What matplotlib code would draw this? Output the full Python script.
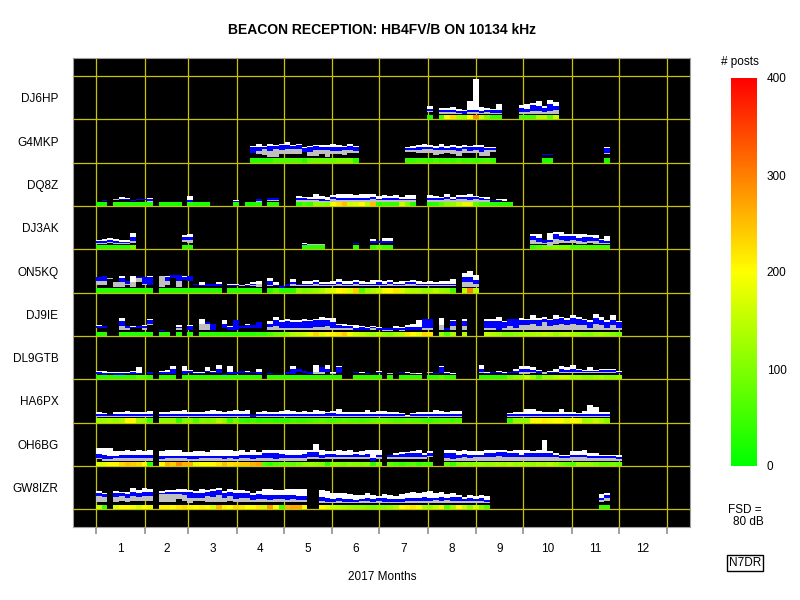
import numpy as np
import matplotlib
matplotlib.use('Agg')
import matplotlib.pyplot as plt
from matplotlib.colors import LinearSegmentedColormap, Normalize
from matplotlib.cm import ScalarMappable

plt.rcParams['font.family'] = ['Liberation Sans', 'DejaVu Sans']

STATIONS = ['DJ6HP', 'G4MKP', 'DQ8Z', 'DJ3AK', 'ON5KQ',
            'DJ9IE', 'DL9GTB', 'HA6PX', 'OH6BG', 'GW8IZR']
MONTH_STARTS = [0, 31, 59, 90, 120, 151, 181, 212, 243, 273, 304, 334, 365]
MONTH_LABELS = [str(m) for m in range(1, 13)]
CBAR_TICKS = [0, 100, 200, 300, 400]
BIN_DAYS = 3.65      # one column = 1/100 of the year
FSD_DB = 80          # full scale of one station row
STRIP_DB = 8         # height of the posts strip

# (bin, posts, gray_lo, blue_lo, blue_hi, white_hi)  -- levels in dB
DJ6HP = [
    (58, 20, 14, 15, 20, 25),
    (60, 60, 10, 14, 18, 22), (61, 190, 10, 14, 18, 22), (62, 230, 10, 14, 18, 23),
    (63, 120, 10, 12, 16, 20), (64, 110, 10, 11, 15, 18), (65, 200, 10, 14, 18, 35),
    (66, 290, 10, 14, 18, 75), (67, 150, 10, 12, 16, 23), (68, 90, 10, 14, 18, 22),
    (69, 40, 10, 12, 18, 20), (70, 40, 10, 12, 18, 29),
    (74, 50, 10, 14, 22, 27), (75, 50, 10, 14, 20, 29), (76, 50, 10, 16, 27, 31),
    (77, 130, 10, 16, 25, 35), (78, 130, 10, 14, 22, 25), (79, 70, 10, 16, 29, 36),
    (80, 150, 10, 18, 25, 33),
]
G4MKP = [
    (27, 30, 18, 18, 29, 31), (28, 30, 16, 22, 30, 35), (29, 30, 15, 25, 29, 31),
    (30, 30, 11, 22, 31, 35), (31, 60, 11, 25, 31, 33), (32, 60, 16, 24, 33, 35),
    (33, 60, 17, 25, 33, 39), (34, 60, 17, 26, 31, 33), (35, 60, 17, 25, 33, 34),
    (36, 30, 20, 20, 28, 30), (37, 80, 13, 20, 29, 31), (38, 80, 13, 24, 31, 33),
    (39, 80, 17, 24, 30, 33), (40, 80, 11, 24, 30, 33), (41, 80, 17, 22, 30, 35),
    (42, 90, 16, 22, 30, 33), (43, 90, 15, 24, 30, 31), (44, 90, 19, 23, 31, 35),
    (45, 30, 19, 22, 30, 31),
    (54, 40, 20, 24, 28, 30), (55, 40, 20, 23, 28, 31), (56, 50, 18, 24, 30, 33),
    (57, 50, 19, 25, 30, 35), (58, 40, 18, 25, 30, 33), (59, 60, 15, 24, 28, 31),
    (60, 40, 17, 24, 30, 35), (61, 50, 18, 24, 27, 31), (62, 40, 17, 24, 30, 33),
    (63, 60, 13, 22, 28, 31), (64, 40, 19, 25, 30, 33), (65, 50, 19, 22, 30, 31),
    (66, 40, 18, 24, 30, 33), (67, 50, 13, 20, 30, 33), (68, 60, 13, 24, 28, 30),
    (69, 40, 20, 24, 28, 30),
    (78, 20, 15, 15, 17, 17), (79, 20, 15, 15, 17, 17),
    (89, 20, 16, 19, 28, 30),
]
DQ8Z = [
    (0, 20, 0, 0, 0, 0), (1, 20, 10, 10, 11, 11),
    (3, 30, 12, 14, 14, 14), (4, 30, 11, 11, 14, 17), (5, 30, 11, 11, 14, 15),
    (6, 30, 10, 10, 12, 12), (7, 30, 12, 12, 14, 14), (8, 30, 12, 12, 14, 14),
    (9, 30, 8, 10, 14, 15),
    (11, 20, 0, 0, 0, 0), (12, 20, 0, 0, 0, 0), (13, 20, 0, 0, 0, 0), (14, 20, 0, 0, 0, 0),
    (16, 30, 7, 7, 12, 19), (17, 20, 0, 0, 0, 0), (18, 20, 0, 0, 0, 0), (19, 20, 0, 0, 0, 0),
    (24, 30, 8, 8, 10, 12),
    (26, 20, 0, 0, 0, 0), (27, 20, 0, 0, 0, 0), (28, 30, 7, 10, 14, 14),
    (30, 30, 9, 12, 15, 15), (31, 30, 9, 12, 15, 15),
    (35, 30, 8, 12, 15, 19), (36, 60, 8, 11, 15, 17), (37, 40, 8, 11, 14, 17),
    (38, 110, 8, 11, 14, 23), (39, 110, 8, 10, 14, 19), (40, 100, 8, 10, 12, 17),
    (41, 200, 8, 14, 17, 21), (42, 220, 8, 12, 15, 23), (43, 250, 8, 12, 15, 23),
    (44, 160, 8, 12, 15, 23), (45, 170, 8, 12, 15, 21), (46, 200, 8, 12, 15, 23),
    (47, 140, 8, 12, 15, 23), (48, 250, 8, 14, 17, 23), (49, 30, 8, 11, 14, 19),
    (50, 40, 8, 12, 15, 21), (51, 40, 8, 12, 15, 19), (52, 40, 8, 12, 15, 21),
    (53, 160, 8, 12, 14, 17), (54, 100, 8, 12, 14, 21), (55, 30, 8, 11, 14, 21),
    (58, 30, 8, 12, 15, 21), (59, 30, 8, 12, 15, 19), (60, 70, 8, 12, 15, 17),
    (61, 100, 8, 14, 17, 23), (62, 110, 8, 11, 14, 17), (63, 150, 8, 14, 17, 21),
    (64, 180, 8, 14, 17, 21), (65, 180, 8, 12, 17, 23), (66, 70, 8, 14, 17, 19),
    (67, 40, 8, 12, 15, 17), (68, 40, 8, 11, 14, 17), (69, 30, 10, 10, 12, 12),
    (70, 30, 10, 10, 12, 13), (71, 30, 10, 10, 10, 13), (72, 30, 0, 0, 0, 0),
]
DJ3AK = [
    (0, 30, 10, 12, 15, 17), (1, 30, 10, 11, 15, 19), (2, 30, 11, 14, 17, 21),
    (3, 30, 10, 12, 15, 19), (4, 30, 10, 11, 14, 17), (5, 30, 10, 11, 14, 17),
    (6, 80, 12, 15, 23, 30),
    (15, 30, 14, 18, 23, 27), (16, 30, 12, 18, 23, 29),
    (36, 30, 9, 9, 10, 12), (37, 30, 9, 10, 10, 10), (38, 30, 9, 10, 10, 10),
    (39, 30, 9, 10, 10, 10),
    (45, 30, 10, 10, 12, 12),
    (48, 40, 11, 12, 15, 19), (49, 70, 11, 12, 15, 15), (50, 40, 12, 12, 15, 21),
    (51, 40, 12, 12, 15, 21),
    (76, 40, 10, 17, 25, 29), (77, 60, 10, 14, 21, 29), (78, 80, 10, 12, 17, 17),
    (79, 90, 7, 14, 17, 30), (80, 100, 10, 20, 29, 32), (81, 90, 12, 17, 25, 32),
    (82, 90, 11, 16, 25, 29), (83, 50, 11, 17, 25, 29), (84, 50, 10, 15, 21, 29),
    (85, 50, 10, 14, 23, 29), (86, 50, 11, 15, 23, 27), (87, 50, 10, 15, 21, 27),
    (88, 50, 10, 12, 17, 19), (89, 50, 10, 12, 15, 25),
]
ON5KQ = [
    (0, 30, 15, 21, 29, 29), (1, 30, 15, 21, 31, 31), (2, 30, 25, 27, 27, 27),
    (3, 30, 10, 20, 20, 20), (4, 30, 10, 19, 27, 31), (5, 30, 15, 17, 21, 21),
    (6, 30, 10, 19, 19, 31), (7, 30, 19, 27, 29, 29), (8, 30, 15, 17, 29, 29),
    (9, 30, 15, 15, 29, 31),
    (11, 30, 10, 30, 30, 31), (12, 30, 15, 22, 29, 31), (13, 30, 27, 27, 33, 33),
    (14, 30, 10, 21, 33, 33), (15, 30, 24, 24, 29, 31), (16, 30, 22, 22, 31, 31),
    (17, 30, 15, 15, 16, 16), (18, 30, 12, 12, 15, 19), (19, 30, 13, 13, 16, 16),
    (20, 30, 13, 13, 16, 16), (21, 30, 12, 12, 16, 20),
    (23, 30, 13, 13, 15, 17), (24, 30, 13, 13, 15, 16), (25, 30, 12, 14, 14, 14),
    (26, 30, 12, 13, 15, 16), (27, 30, 12, 15, 17, 20), (28, 30, 10, 17, 17, 21),
    (30, 30, 12, 15, 21, 27), (31, 70, 12, 12, 15, 20), (32, 30, 9, 9, 12, 12),
    (33, 30, 12, 13, 16, 17), (34, 30, 13, 16, 20, 25), (35, 110, 12, 14, 17, 17),
    (36, 90, 12, 14, 17, 21), (37, 100, 12, 14, 17, 21), (38, 110, 12, 16, 20, 24),
    (39, 130, 12, 14, 17, 20), (40, 160, 12, 14, 17, 20), (41, 170, 12, 14, 17, 21),
    (42, 200, 12, 16, 20, 25), (43, 210, 12, 14, 17, 21), (44, 170, 12, 14, 17, 21),
    (45, 240, 12, 16, 20, 24), (46, 60, 12, 14, 17, 21), (47, 120, 12, 14, 17, 20),
    (48, 130, 12, 14, 17, 24), (49, 150, 12, 14, 20, 24), (50, 190, 12, 15, 17, 21),
    (51, 200, 12, 16, 20, 24), (52, 220, 12, 14, 17, 20), (53, 170, 12, 14, 17, 21),
    (54, 140, 12, 16, 20, 21), (55, 130, 12, 16, 20, 24), (56, 130, 12, 14, 17, 21),
    (57, 110, 12, 14, 17, 20), (58, 120, 12, 14, 17, 21), (59, 140, 12, 14, 17, 20),
    (60, 120, 12, 14, 17, 21), (61, 110, 12, 14, 17, 21), (62, 50, 12, 14, 17, 25),
    (64, 150, 11, 20, 29, 37), (65, 300, 11, 20, 29, 40), (66, 140, 11, 17, 24, 33),
]
DJ9IE = [
    (0, 30, 14, 15, 19, 21), (1, 30, 15, 15, 19, 19),
    (4, 30, 12, 19, 27, 34), (5, 30, 12, 14, 19, 19), (6, 30, 14, 14, 17, 19),
    (7, 30, 14, 14, 19, 19), (8, 30, 11, 14, 19, 21), (9, 30, 21, 23, 29, 32),
    (11, 30, 10, 10, 12, 12), (12, 30, 0, 0, 0, 0),
    (14, 30, 12, 14, 17, 21), (16, 30, 11, 11, 19, 21),
    (18, 30, 12, 23, 23, 32), (19, 30, 12, 22, 25, 25), (20, 30, 12, 12, 23, 23),
    (21, 30, 0, 0, 0, 0), (22, 30, 14, 14, 23, 30), (23, 30, 11, 11, 17, 18),
    (24, 30, 12, 12, 29, 30), (25, 30, 14, 14, 19, 19), (26, 30, 14, 14, 21, 23),
    (27, 30, 14, 14, 21, 21), (28, 40, 14, 14, 25, 25), (29, 40, 0, 0, 0, 0),
    (30, 60, 11, 17, 23, 27), (31, 80, 11, 19, 30, 36), (32, 90, 11, 14, 25, 29),
    (33, 110, 11, 15, 27, 32), (34, 140, 11, 14, 25, 29), (35, 150, 11, 15, 25, 30),
    (36, 160, 11, 15, 27, 32), (37, 180, 11, 15, 27, 30), (38, 230, 11, 17, 29, 32),
    (39, 180, 11, 17, 29, 36), (40, 200, 11, 19, 29, 34), (41, 210, 11, 14, 25, 34),
    (42, 220, 11, 14, 21, 23), (43, 240, 11, 14, 19, 23), (44, 190, 11, 14, 19, 21),
    (45, 160, 11, 12, 15, 21), (46, 150, 11, 12, 17, 19), (47, 130, 11, 12, 15, 17),
    (48, 120, 11, 14, 17, 19), (49, 140, 11, 12, 15, 17), (50, 110, 10, 11, 14, 15),
    (51, 100, 10, 11, 14, 15), (52, 130, 11, 12, 15, 19), (53, 140, 10, 11, 14, 17),
    (54, 220, 11, 12, 17, 21), (55, 200, 11, 12, 17, 23), (56, 180, 11, 12, 17, 30),
    (57, 230, 11, 14, 32, 32), (58, 220, 11, 15, 32, 32),
    (60, 120, 11, 20, 20, 34), (61, 60, 12, 12, 14, 14), (62, 130, 11, 18, 27, 29),
    (64, 140, 11, 18, 27, 32),
    (68, 150, 11, 15, 27, 32), (69, 140, 11, 14, 27, 32), (70, 130, 11, 12, 27, 36),
    (71, 100, 11, 15, 25, 27), (72, 100, 11, 18, 32, 32), (73, 110, 11, 15, 32, 32),
    (74, 120, 11, 20, 30, 34), (75, 130, 11, 20, 29, 32), (76, 130, 11, 23, 30, 38),
    (77, 140, 11, 19, 30, 34), (78, 150, 11, 25, 32, 36), (79, 140, 11, 18, 29, 32),
    (80, 120, 11, 21, 32, 38), (81, 140, 11, 23, 34, 36), (82, 150, 11, 21, 30, 34),
    (83, 130, 11, 23, 34, 38), (84, 120, 11, 21, 32, 36), (85, 110, 11, 21, 30, 32),
    (86, 100, 11, 15, 25, 30), (87, 120, 11, 23, 34, 40), (88, 130, 11, 21, 30, 36),
    (89, 120, 11, 15, 25, 29), (90, 100, 11, 21, 30, 38), (91, 90, 11, 15, 25, 27),
]
DL9GTB = [
    (0, 30, 9, 9, 13, 16), (1, 30, 8, 8, 12, 16), (2, 30, 9, 9, 12, 14),
    (3, 30, 8, 8, 11, 13), (4, 30, 8, 8, 12, 14), (5, 30, 9, 9, 12, 14),
    (6, 30, 9, 9, 13, 16), (7, 60, 9, 9, 12, 22), (8, 60, 0, 0, 0, 0),
    (9, 30, 9, 9, 14, 14),
    (11, 30, 9, 9, 13, 16), (12, 30, 9, 9, 13, 18), (13, 30, 9, 9, 19, 25),
    (15, 30, 9, 9, 16, 24), (16, 30, 12, 12, 16, 18), (17, 30, 9, 9, 12, 13),
    (18, 30, 9, 9, 12, 13), (19, 30, 13, 13, 16, 22), (20, 30, 11, 11, 14, 16),
    (21, 30, 12, 12, 20, 27), (22, 30, 8, 8, 9, 10), (23, 30, 9, 9, 13, 25),
    (24, 30, 9, 9, 13, 14), (25, 30, 12, 12, 16, 16), (26, 30, 12, 12, 14, 16),
    (27, 30, 11, 11, 13, 14), (28, 30, 9, 9, 14, 19),
    (30, 30, 9, 9, 11, 11), (31, 30, 0, 0, 0, 0), (32, 30, 0, 0, 0, 0),
    (33, 30, 9, 9, 13, 14), (34, 30, 9, 9, 19, 25), (35, 30, 13, 13, 19, 19),
    (36, 30, 12, 12, 16, 16), (37, 30, 9, 9, 13, 13), (38, 30, 9, 13, 13, 27),
    (39, 30, 10, 13, 22, 22), (40, 30, 13, 13, 20, 27), (41, 30, 9, 12, 12, 14),
    (42, 30, 12, 12, 22, 25),
    (45, 30, 12, 12, 14, 14), (46, 30, 11, 12, 12, 13), (47, 30, 9, 9, 12, 12),
    (48, 30, 0, 0, 0, 0), (49, 30, 12, 12, 14, 16),
    (51, 30, 10, 11, 11, 12),
    (53, 30, 12, 12, 14, 14), (54, 30, 11, 11, 12, 13), (55, 30, 9, 12, 12, 12),
    (56, 30, 10, 10, 10, 11),
    (58, 30, 11, 13, 13, 14), (59, 30, 9, 9, 12, 12), (60, 60, 12, 12, 22, 25),
    (61, 30, 9, 9, 12, 13), (62, 30, 10, 10, 10, 11),
    (67, 30, 12, 14, 20, 27), (68, 30, 9, 9, 12, 14), (69, 30, 11, 11, 13, 14),
    (70, 30, 11, 11, 14, 16), (71, 30, 9, 9, 12, 14), (72, 80, 11, 11, 13, 14),
    (73, 100, 11, 11, 16, 20), (74, 110, 9, 13, 20, 24), (75, 150, 9, 13, 20, 24),
    (76, 110, 12, 13, 18, 22), (77, 50, 12, 12, 16, 18), (78, 110, 9, 13, 13, 13),
    (79, 110, 12, 12, 14, 16), (80, 130, 11, 11, 14, 20), (81, 150, 12, 14, 20, 24),
    (82, 150, 12, 13, 18, 22), (83, 120, 12, 14, 20, 27), (84, 120, 12, 13, 18, 20),
    (85, 100, 12, 13, 16, 18), (86, 100, 12, 13, 16, 22), (87, 110, 12, 13, 16, 18),
    (88, 120, 12, 13, 18, 20), (89, 100, 12, 13, 18, 20), (90, 100, 12, 13, 18, 20),
    (91, 110, 11, 11, 14, 16),
]
HA6PX = [
    (0, 120, 11, 13, 16, 19), (1, 120, 11, 13, 16, 17), (2, 130, 11, 13, 15, 15),
    (3, 120, 11, 13, 16, 19), (4, 130, 11, 13, 16, 19), (5, 200, 11, 13, 16, 21),
    (6, 200, 11, 13, 16, 19), (7, 120, 11, 13, 16, 19), (8, 110, 11, 13, 16, 19),
    (9, 50, 11, 13, 16, 21),
    (11, 110, 11, 13, 16, 19), (12, 110, 11, 13, 16, 19), (13, 110, 11, 13, 16, 21),
    (14, 40, 11, 13, 16, 21), (15, 100, 11, 13, 16, 23), (16, 100, 11, 13, 16, 19),
    (17, 60, 11, 13, 16, 19), (18, 100, 11, 13, 16, 19), (19, 90, 11, 13, 16, 21),
    (20, 100, 11, 13, 16, 23), (21, 140, 11, 13, 16, 21), (22, 110, 11, 13, 16, 19),
    (23, 40, 11, 13, 16, 21), (24, 90, 11, 13, 16, 23), (25, 40, 11, 13, 16, 21),
    (26, 30, 11, 13, 16, 23), (27, 50, 10, 11, 14, 14), (28, 30, 11, 13, 16, 19),
    (29, 40, 11, 13, 16, 21), (30, 40, 11, 13, 16, 19), (31, 30, 11, 13, 16, 19),
    (32, 40, 11, 13, 16, 21), (33, 30, 11, 13, 16, 23), (34, 50, 11, 13, 16, 21),
    (35, 40, 11, 13, 16, 19), (36, 40, 11, 13, 16, 21), (37, 50, 11, 13, 16, 19),
    (38, 60, 11, 13, 16, 23), (39, 70, 11, 13, 16, 21), (40, 60, 11, 13, 17, 19),
    (41, 50, 11, 13, 17, 21), (42, 60, 11, 13, 16, 25), (43, 70, 11, 13, 16, 19),
    (44, 60, 11, 13, 16, 19), (45, 60, 11, 13, 16, 19), (46, 50, 11, 13, 16, 19),
    (47, 60, 11, 13, 16, 23), (48, 70, 11, 13, 16, 19), (49, 80, 11, 13, 16, 21),
    (50, 80, 11, 13, 16, 21), (51, 70, 11, 13, 16, 19), (52, 60, 11, 13, 16, 19),
    (53, 60, 11, 13, 16, 17), (54, 70, 10, 12, 12, 14), (55, 60, 11, 13, 16, 17),
    (56, 60, 11, 13, 16, 19), (57, 50, 11, 13, 16, 19), (58, 40, 11, 13, 16, 19),
    (59, 50, 11, 13, 16, 23), (60, 60, 11, 13, 16, 21), (61, 60, 11, 13, 16, 19),
    (62, 50, 11, 13, 16, 21), (63, 60, 11, 13, 16, 21),
    (72, 40, 11, 13, 16, 17), (73, 110, 11, 13, 16, 19), (74, 110, 11, 13, 16, 19),
    (75, 110, 11, 13, 16, 25), (76, 200, 11, 13, 16, 25), (77, 200, 11, 13, 16, 21),
    (78, 210, 11, 13, 16, 19), (79, 190, 11, 13, 16, 19), (80, 200, 11, 13, 16, 19),
    (81, 200, 11, 13, 16, 25), (82, 170, 11, 13, 16, 19), (83, 200, 11, 13, 16, 19),
    (84, 190, 11, 13, 16, 17), (85, 120, 11, 13, 16, 21), (86, 130, 11, 13, 16, 32),
    (87, 150, 11, 13, 16, 29), (88, 130, 11, 13, 16, 19), (89, 100, 11, 13, 16, 19),
]
OH6BG = [
    (0, 170, 12, 14, 22, 33), (1, 180, 10, 13, 21, 33), (2, 200, 10, 13, 19, 33),
    (3, 200, 10, 14, 19, 27), (4, 230, 10, 14, 20, 27), (5, 250, 10, 14, 20, 30),
    (6, 240, 10, 14, 20, 27), (7, 230, 10, 14, 20, 29), (8, 200, 10, 14, 20, 27),
    (9, 40, 10, 14, 21, 29),
    (11, 200, 10, 13, 19, 27), (12, 260, 10, 14, 19, 29), (13, 240, 10, 14, 19, 29),
    (14, 290, 10, 14, 19, 30), (15, 260, 10, 14, 19, 25), (16, 260, 10, 13, 19, 25),
    (17, 180, 10, 13, 19, 27), (18, 200, 10, 14, 19, 27), (19, 200, 10, 14, 19, 25),
    (20, 200, 10, 14, 19, 29), (21, 220, 10, 14, 19, 29), (22, 250, 10, 13, 19, 30),
    (23, 220, 10, 14, 19, 30), (24, 230, 10, 13, 19, 27), (25, 240, 10, 14, 20, 29),
    (26, 240, 10, 14, 20, 25), (27, 260, 10, 13, 20, 30), (28, 270, 10, 14, 20, 25),
    (29, 60, 10, 14, 24, 30), (30, 40, 10, 14, 24, 30), (31, 60, 10, 13, 24, 29),
    (32, 80, 10, 14, 22, 29), (33, 80, 10, 14, 20, 29), (34, 70, 10, 14, 20, 29),
    (35, 90, 10, 14, 20, 29), (36, 110, 10, 14, 22, 29), (37, 120, 13, 16, 25, 29),
    (38, 110, 13, 16, 25, 40), (39, 100, 13, 14, 20, 29), (40, 30, 13, 16, 22, 27),
    (41, 110, 13, 17, 22, 27), (42, 100, 13, 17, 21, 29), (43, 90, 13, 17, 21, 27),
    (44, 110, 13, 17, 21, 30), (45, 100, 13, 17, 22, 25), (46, 100, 13, 17, 20, 27),
    (47, 110, 13, 17, 22, 29), (48, 30, 9, 9, 15, 29), (49, 100, 13, 16, 21, 29),
    (51, 70, 13, 17, 21, 21), (52, 60, 13, 17, 21, 24), (53, 40, 12, 17, 22, 25),
    (54, 60, 12, 17, 24, 25), (55, 70, 12, 17, 24, 27), (56, 40, 12, 17, 24, 29),
    (57, 60, 12, 17, 21, 24), (58, 50, 16, 19, 24, 27),
    (61, 80, 10, 14, 24, 30), (62, 40, 10, 13, 24, 30), (63, 100, 10, 14, 21, 27),
    (64, 110, 10, 16, 22, 30), (65, 100, 10, 14, 21, 27), (66, 110, 10, 16, 21, 27),
    (67, 120, 10, 16, 21, 27), (68, 110, 10, 17, 24, 29), (69, 120, 10, 17, 24, 30),
    (70, 130, 10, 19, 25, 29), (71, 120, 10, 17, 25, 29), (72, 140, 10, 17, 24, 27),
    (73, 120, 10, 17, 24, 30), (74, 130, 10, 16, 21, 29), (75, 120, 10, 17, 24, 30),
    (76, 110, 10, 17, 24, 27), (77, 130, 10, 17, 24, 30), (78, 120, 10, 17, 24, 48),
    (79, 140, 10, 17, 24, 27), (80, 120, 10, 16, 21, 24), (81, 100, 10, 14, 19, 21),
    (82, 80, 10, 14, 19, 21), (83, 70, 10, 16, 21, 27), (84, 120, 10, 16, 21, 27),
    (85, 110, 10, 16, 21, 29), (86, 110, 10, 14, 19, 24), (87, 100, 10, 14, 19, 24),
    (88, 80, 10, 14, 19, 21), (89, 80, 10, 14, 19, 21), (90, 90, 10, 14, 19, 21),
    (91, 80, 10, 13, 17, 21),
]
GW8IZR = [
    (0, 150, 14, 25, 30, 34), (1, 40, 14, 23, 29, 30),
    (3, 170, 14, 23, 30, 34), (4, 200, 15, 25, 30, 32), (5, 200, 14, 21, 29, 32),
    (6, 190, 15, 25, 32, 40), (7, 160, 15, 23, 30, 36), (8, 200, 15, 25, 32, 40),
    (9, 180, 15, 25, 32, 38),
    (11, 210, 14, 29, 30, 34), (12, 210, 14, 29, 32, 36), (13, 200, 14, 29, 32, 36),
    (14, 220, 19, 29, 32, 38), (15, 230, 15, 27, 32, 38), (16, 210, 12, 21, 32, 36),
    (17, 200, 15, 21, 30, 34), (18, 210, 15, 21, 30, 38), (19, 200, 14, 25, 32, 36),
    (20, 170, 14, 23, 34, 38), (21, 260, 14, 27, 36, 40), (22, 210, 14, 21, 30, 34),
    (23, 200, 15, 25, 32, 38), (24, 230, 14, 19, 30, 36), (25, 220, 14, 21, 30, 36),
    (26, 200, 14, 21, 30, 34), (27, 200, 14, 17, 27, 30), (28, 220, 14, 19, 29, 34),
    (29, 160, 14, 19, 27, 38), (30, 280, 14, 17, 27, 38), (31, 200, 14, 19, 27, 36),
    (32, 50, 14, 19, 27, 36), (33, 260, 14, 17, 27, 38), (34, 270, 14, 19, 27, 38),
    (35, 270, 14, 17, 25, 38), (36, 200, 14, 17, 25, 38),
    (39, 200, 12, 15, 23, 36), (40, 180, 12, 14, 21, 34), (41, 150, 12, 14, 19, 30),
    (42, 140, 12, 15, 21, 30), (43, 130, 12, 14, 19, 30), (44, 120, 12, 14, 19, 29),
    (45, 110, 12, 14, 17, 27), (46, 110, 12, 15, 19, 27), (47, 100, 12, 15, 21, 30),
    (48, 90, 12, 14, 19, 27), (49, 100, 12, 15, 21, 25), (50, 100, 12, 14, 21, 29),
    (51, 110, 12, 14, 19, 27), (52, 130, 12, 14, 19, 25), (53, 200, 12, 14, 19, 29),
    (54, 210, 12, 15, 21, 30), (55, 220, 12, 15, 21, 32), (56, 190, 12, 15, 21, 30),
    (57, 130, 12, 15, 23, 32), (58, 120, 12, 15, 21, 34), (59, 150, 12, 17, 21, 30),
    (60, 180, 12, 15, 23, 32), (61, 60, 12, 17, 21, 29), (62, 120, 12, 15, 23, 30),
    (63, 200, 12, 15, 23, 27), (64, 150, 12, 15, 19, 23), (65, 100, 12, 15, 21, 27),
    (66, 160, 12, 15, 19, 25), (67, 100, 12, 15, 21, 27), (68, 60, 12, 14, 17, 25),
    (88, 40, 14, 17, 21, 29), (89, 40, 15, 21, 26, 30),
]

STATION_DATA = [DJ6HP, G4MKP, DQ8Z, DJ3AK, ON5KQ, DJ9IE, DL9GTB, HA6PX, OH6BG, GW8IZR]

posts_cmap = LinearSegmentedColormap.from_list('posts', ['#00ff00', '#ffff00', '#ff0000'])
posts_norm = Normalize(vmin=CBAR_TICKS[0], vmax=CBAR_TICKS[-1])

fig = plt.figure(figsize=(8, 6), dpi=100)
ax = fig.add_axes([73 / 800, 73 / 600, 617 / 800, 469 / 600])
ax.set_facecolor('black')
ax.set_xlim(-14.7, 379.5)
ax.set_ylim(-0.41, 10.42)

grid_color = '#c8c400'
for d in MONTH_STARTS:
    ax.axvline(d, color=grid_color, lw=0.9, zorder=1)
for r in range(len(STATIONS) + 1):
    ax.axhline(r, color=grid_color, lw=0.9, zorder=1)

n = len(STATIONS)
for i, rows in enumerate(STATION_DATA):
    base = n - 1 - i
    a = np.array(rows, dtype=float)
    x = a[:, 0] * BIN_DAYS
    posts, glo, blo, bhi, whi = a[:, 1], a[:, 2], a[:, 3], a[:, 4], a[:, 5]
    kw = dict(width=BIN_DAYS, align='edge', linewidth=0, antialiased=False, zorder=2)
    ax.bar(x, STRIP_DB / FSD_DB, bottom=base, color=posts_cmap(posts_norm(posts)), **kw)
    ax.bar(x, (blo - glo) / FSD_DB, bottom=base + glo / FSD_DB, color='#c0c0c0', **kw)
    ax.bar(x, (bhi - blo) / FSD_DB, bottom=base + blo / FSD_DB, color='#0000ff', **kw)
    ax.bar(x, (whi - bhi) / FSD_DB, bottom=base + bhi / FSD_DB, color='white', **kw)

# axes: month boundaries as ticks, month numbers centred between them
ax.set_xticks(MONTH_STARTS)
ax.set_xticklabels([])
mids = [(a + b) / 2 for a, b in zip(MONTH_STARTS[:-1], MONTH_STARTS[1:])]
ax.set_xticks(mids, minor=True)
ax.set_xticklabels(MONTH_LABELS, minor=True, fontsize=8.5)
ax.tick_params(axis='x', which='major', length=5, width=1.2, color='#909090', direction='out')
ax.tick_params(axis='x', which='minor', length=0, pad=11.5)
ax.set_yticks([n - 1 - i + 0.5 for i in range(n)])
ax.set_yticklabels(STATIONS, fontsize=8.5)
ax.tick_params(axis='y', length=0, pad=10.5)
for s in ax.spines.values():
    s.set_color('#a0a0a0')
    s.set_linewidth(0.8)

fig.text(381.5 / 800, 1 - 30 / 600, 'BEACON RECEPTION: HB4FV/B ON 10134 kHz',
         ha='center', va='center', fontsize=10, fontweight='bold')
fig.text(382 / 800, 1 - 577 / 600, '2017 Months', ha='center', va='center', fontsize=8.5)

# posts colour scale
cax = fig.add_axes([731 / 800, 1 - 466 / 600, 26 / 800, 388 / 600])
cb = fig.colorbar(ScalarMappable(norm=posts_norm, cmap=posts_cmap), cax=cax, ticks=CBAR_TICKS)
cb.outline.set_visible(False)
cax.tick_params(length=0, pad=7, labelsize=8.5)
fig.text(740 / 800, 1 - 62 / 600, '# posts', ha='center', va='center', fontsize=8.5)
fig.text(745 / 800, 1 - 510 / 600, 'FSD =', ha='center', va='center', fontsize=8.5)
fig.text(748 / 800, 1 - 522 / 600, '80 dB', ha='center', va='center', fontsize=8.5)
fig.text(745 / 800, 1 - 563 / 600, 'N7DR', ha='center', va='center', fontsize=8.5,
         bbox=dict(boxstyle='square,pad=0.15', facecolor='white', edgecolor='black', lw=1))

fig.savefig('out.png', dpi=100)
